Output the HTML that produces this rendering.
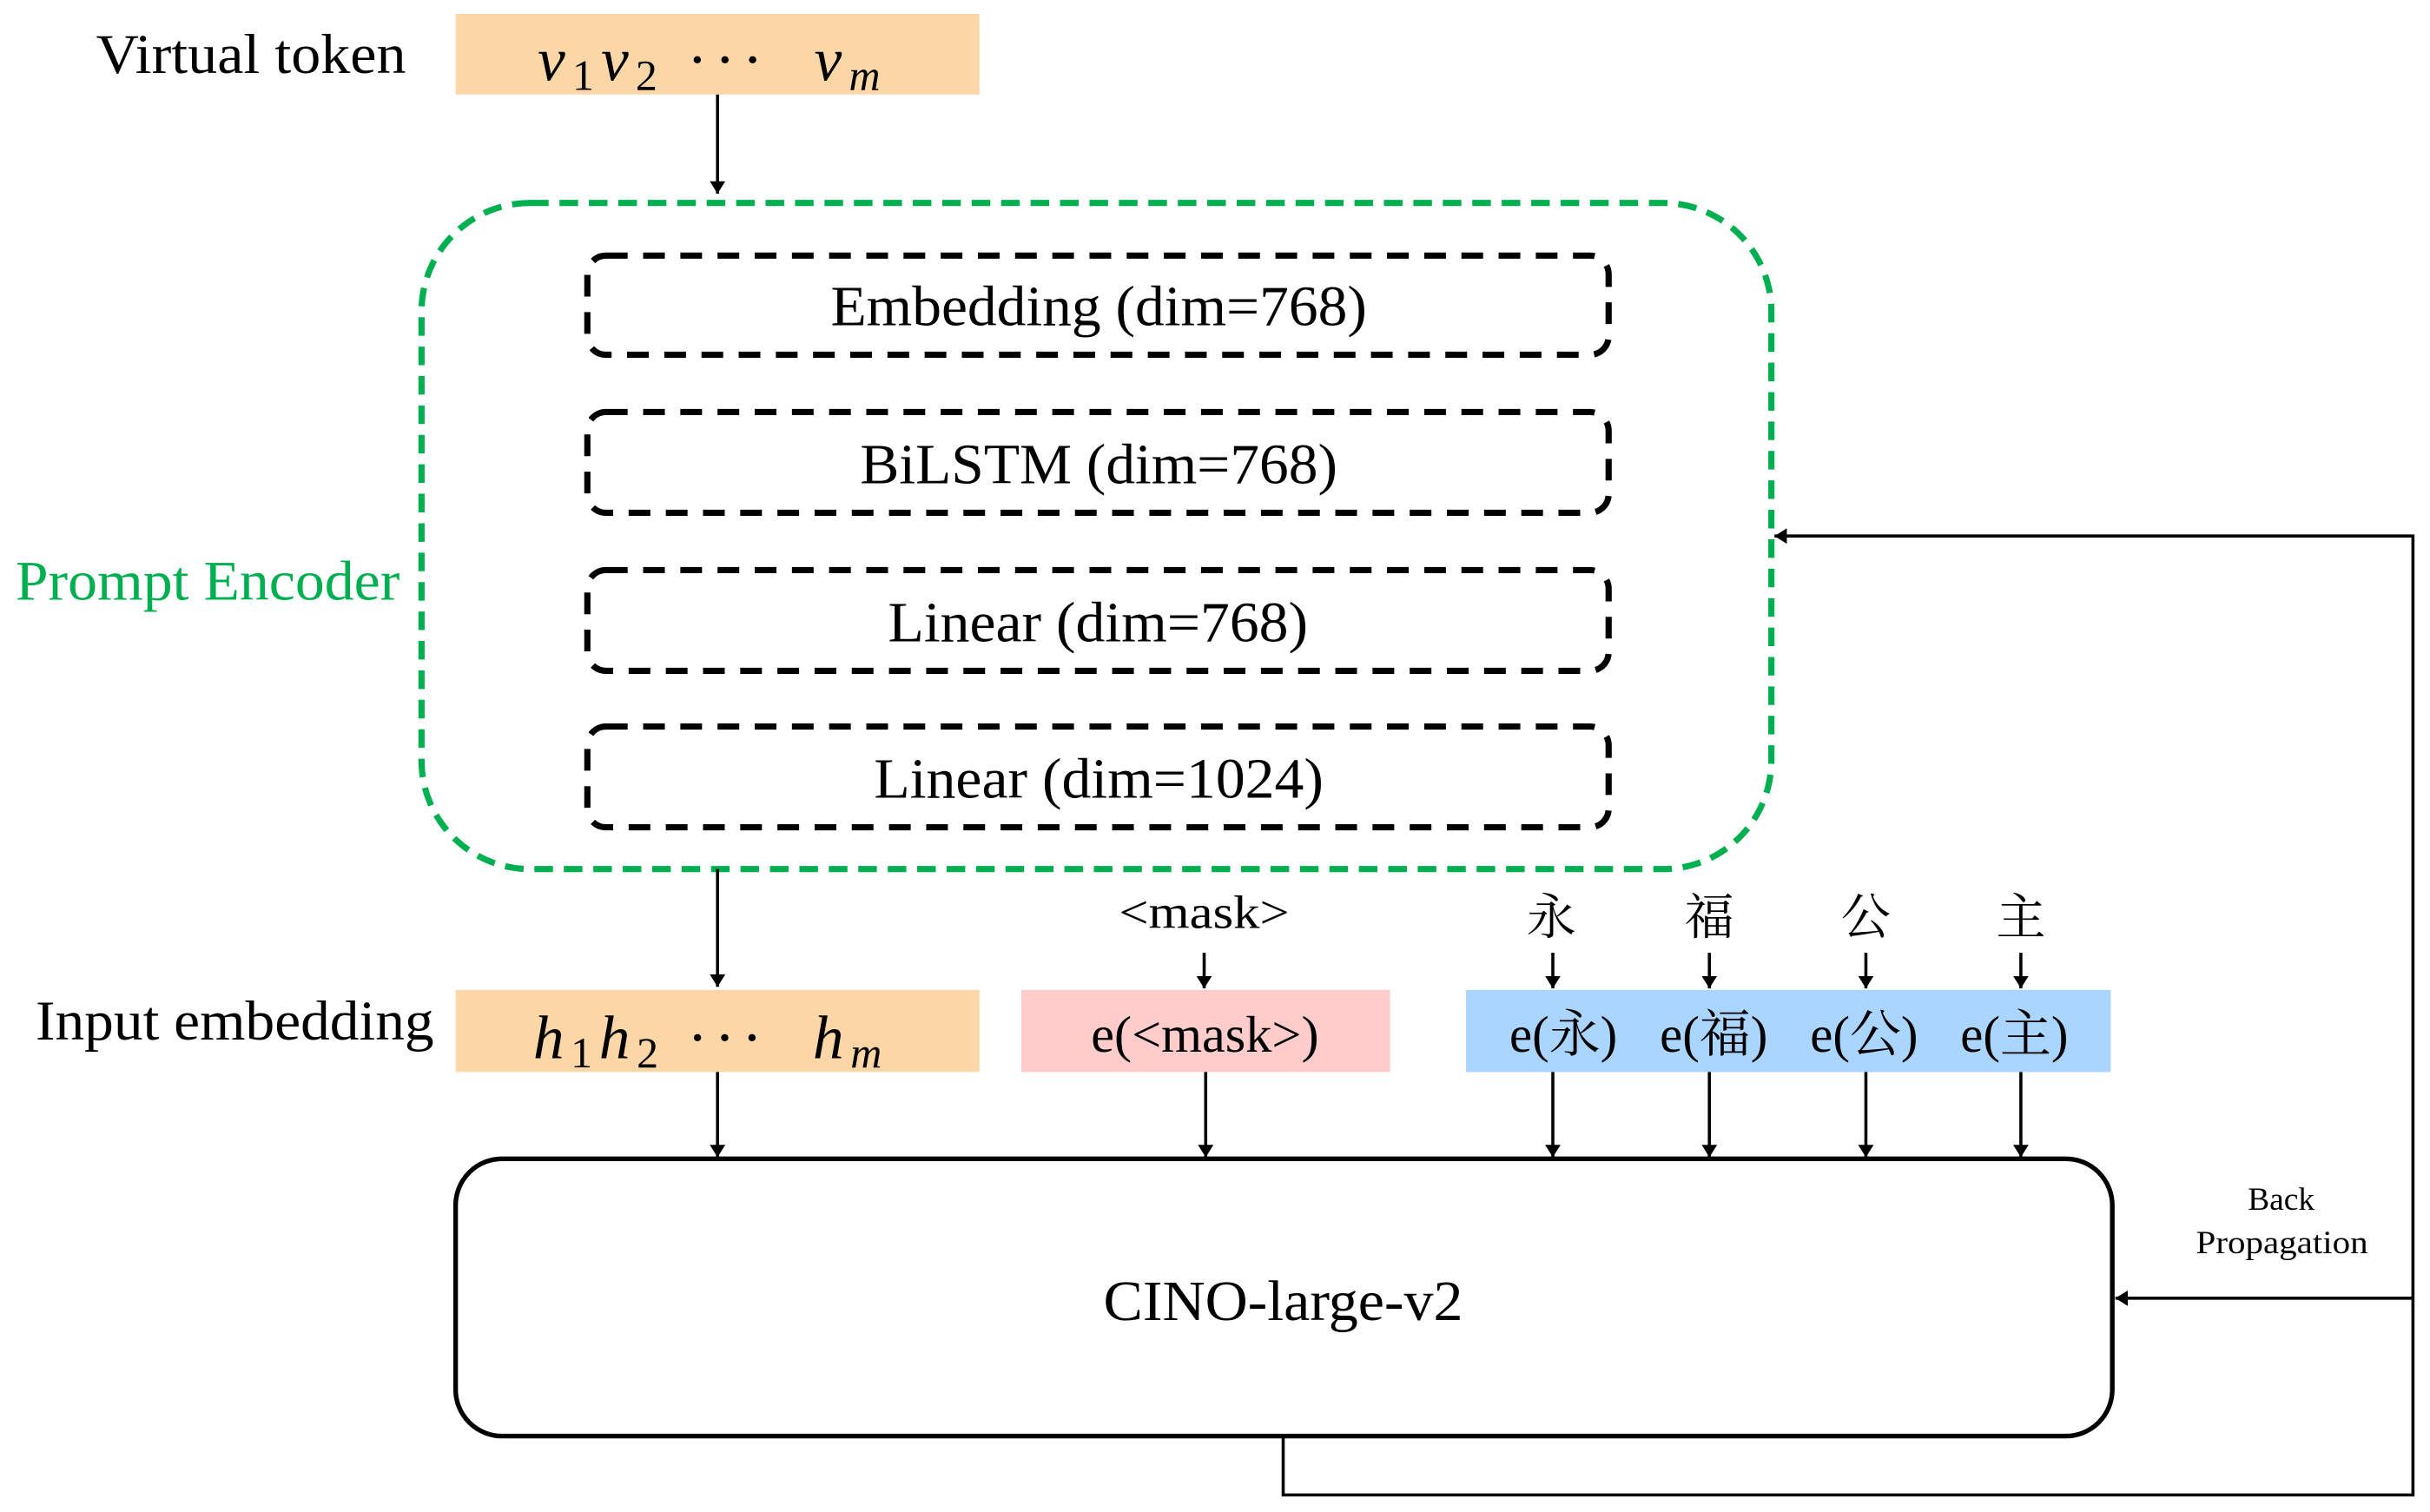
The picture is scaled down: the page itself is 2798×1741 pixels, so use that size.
<!DOCTYPE html>
<html><head><meta charset="utf-8"><style>
html,body{margin:0;padding:0;background:#fff;}
svg{display:block;}
text{font-family:"Liberation Serif","Noto Serif CJK SC",serif;}
</style></head><body>
<svg width="2798" height="1741" viewBox="0 0 1568 976" preserveAspectRatio="none" xmlns="http://www.w3.org/2000/svg">
<defs>
<marker id="ah" markerWidth="8" markerHeight="10" refX="8" refY="5" orient="auto" markerUnits="userSpaceOnUse">
<path d="M0,0 L8,5 L0,10 z" fill="#000"/>
</marker>
</defs>
<!-- Virtual token -->
<text x="62" y="47" font-size="36" textLength="200" lengthAdjust="spacingAndGlyphs">Virtual token</text>
<rect x="294" y="9" width="338" height="52" fill="#FBD6A6"/>
<text x="347" y="52" font-size="40" font-style="italic" textLength="221" lengthAdjust="spacing">v<tspan font-size="28" font-style="normal" dy="6">1</tspan><tspan dy="-6">v</tspan><tspan font-size="28" font-style="normal" dy="6">2</tspan><tspan dy="-6" font-style="normal"> ··· </tspan><tspan dx="14">v</tspan><tspan font-size="28" dy="6">m</tspan></text>
<line x1="463" y1="61" x2="463" y2="125" stroke="#000" stroke-width="2" marker-end="url(#ah)"/>
<!-- Prompt encoder -->
<rect x="272" y="131" width="871" height="430" rx="70" ry="70" fill="none" stroke="#00B050" stroke-width="4" stroke-dasharray="12,7"/>
<text x="10" y="387" font-size="36" fill="#00B050" textLength="248" lengthAdjust="spacingAndGlyphs">Prompt Encoder</text>
<g fill="none" stroke="#000" stroke-width="4" stroke-dasharray="14,10">
<rect x="379" y="165" width="659" height="64" rx="12"/>
<rect x="379" y="266" width="659" height="65" rx="12"/>
<rect x="379" y="368" width="659" height="65" rx="12"/>
<rect x="379" y="469" width="659" height="65" rx="12"/>
</g>
<g font-size="37">
<text x="536" y="210" textLength="346" lengthAdjust="spacingAndGlyphs">Embedding (dim=768)</text>
<text x="555" y="312" textLength="308" lengthAdjust="spacingAndGlyphs">BiLSTM (dim=768)</text>
<text x="573" y="414" textLength="271" lengthAdjust="spacingAndGlyphs">Linear (dim=768)</text>
<text x="564" y="515" textLength="290" lengthAdjust="spacingAndGlyphs">Linear (dim=1024)</text>
</g>
<line x1="463" y1="561" x2="463" y2="637" stroke="#000" stroke-width="2" marker-end="url(#ah)"/>
<!-- Input embedding -->
<text x="23" y="671" font-size="36" textLength="257" lengthAdjust="spacingAndGlyphs">Input embedding</text>
<rect x="294" y="639" width="338" height="53" fill="#FBD6A6"/>
<text x="344" y="683" font-size="40" font-style="italic" textLength="225" lengthAdjust="spacing">h<tspan font-size="28" font-style="normal" dy="6">1</tspan><tspan dy="-6">h</tspan><tspan font-size="28" font-style="normal" dy="6">2</tspan><tspan dy="-6" font-style="normal"> ··· </tspan><tspan dx="14">h</tspan><tspan font-size="28" dy="6">m</tspan></text>
<rect x="659" y="639" width="238" height="53" fill="#FFCCCC"/>
<text x="704" y="679" font-size="33" textLength="147" lengthAdjust="spacingAndGlyphs">e(&lt;mask&gt;)</text>
<text x="722" y="599" font-size="30" textLength="110" lengthAdjust="spacingAndGlyphs">&lt;mask&gt;</text>
<rect x="946" y="639" width="416" height="53" fill="#A9D5FF"/>
<g font-size="33">
<text x="974" y="679">e(永)</text>
<text x="1071" y="679">e(福)</text>
<text x="1168" y="679">e(公)</text>
<text x="1265" y="679">e(主)</text>
</g>
<g font-size="32" text-anchor="middle">
<text x="1001" y="603">永</text>
<text x="1103" y="603">福</text>
<text x="1204" y="603">公</text>
<text x="1304" y="603">主</text>
</g>
<g stroke="#000" stroke-width="2" marker-end="url(#ah)">
<line x1="777" y1="615" x2="777" y2="638"/>
<line x1="1002" y1="615" x2="1002" y2="638"/>
<line x1="1103" y1="615" x2="1103" y2="638"/>
<line x1="1204" y1="615" x2="1204" y2="638"/>
<line x1="1304" y1="615" x2="1304" y2="638"/>
<line x1="463" y1="692" x2="463" y2="747"/>
<line x1="778" y1="692" x2="778" y2="747"/>
<line x1="1002" y1="692" x2="1002" y2="747"/>
<line x1="1103" y1="692" x2="1103" y2="747"/>
<line x1="1204" y1="692" x2="1204" y2="747"/>
<line x1="1304" y1="692" x2="1304" y2="747"/>
</g>
<!-- CINO -->
<rect x="294" y="748" width="1069" height="179" rx="30" fill="none" stroke="#000" stroke-width="3"/>
<text x="712" y="852" font-size="37" textLength="232" lengthAdjust="spacingAndGlyphs">CINO-large-v2</text>
<!-- feedback -->
<polyline points="828,927 828,965 1557,965 1557,346 1145,346" fill="none" stroke="#000" stroke-width="2" marker-end="url(#ah)"/>
<line x1="1557" y1="838" x2="1365" y2="838" stroke="#000" stroke-width="2" marker-end="url(#ah)"/>
<text x="1472" y="781" font-size="21" text-anchor="middle">Back</text>
<text x="1417" y="809" font-size="21" textLength="111" lengthAdjust="spacingAndGlyphs">Propagation</text>
</svg>
</body></html>
